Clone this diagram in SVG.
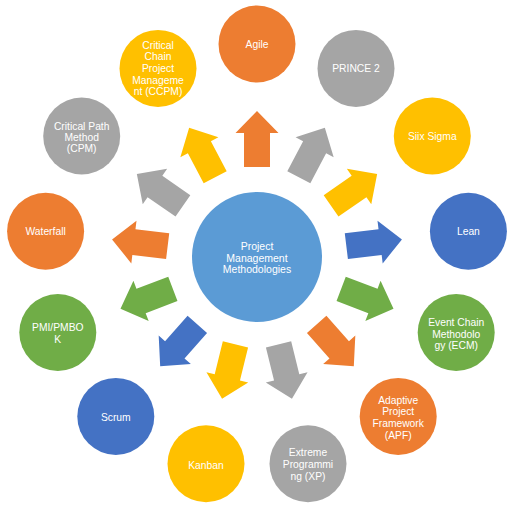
<svg xmlns="http://www.w3.org/2000/svg" xmlns:xlink="http://www.w3.org/1999/xlink" width="519" height="512" viewBox="0 0 519 512">
<style>
text{font-family:"Liberation Sans",Arial,sans-serif;font-size:10.3px;fill:#fff;text-anchor:middle}
.c{font-size:10.5px}
.or{fill:#ED7D31}.gr{fill:#A5A5A5}.ye{fill:#FFC000}.bl{fill:#4472C4}.gn{fill:#70AD47}.lb{fill:#5B9BD5}
</style>
<defs>
<polygon id="arr" points="347,244 381,244 381,235.5 403,257 381,278.5 381,270 347,270"/>
</defs>
<rect width="519" height="512" fill="#fff"/>
<g id="connectors">
<use xlink:href="#arr" class="or" transform="rotate(-90 257 257)"/>
<use xlink:href="#arr" class="gr" transform="rotate(-62.308 257 257)"/>
<use xlink:href="#arr" class="ye" transform="rotate(-34.615 257 257)"/>
<use xlink:href="#arr" class="bl" transform="rotate(-6.923 257 257)"/>
<use xlink:href="#arr" class="gn" transform="rotate(20.769 257 257)"/>
<use xlink:href="#arr" class="or" transform="rotate(48.462 257 257)"/>
<use xlink:href="#arr" class="gr" transform="rotate(76.154 257 257)"/>
<use xlink:href="#arr" class="ye" transform="rotate(103.846 257 257)"/>
<use xlink:href="#arr" class="bl" transform="rotate(131.538 257 257)"/>
<use xlink:href="#arr" class="gn" transform="rotate(159.231 257 257)"/>
<use xlink:href="#arr" class="or" transform="rotate(186.923 257 257)"/>
<use xlink:href="#arr" class="gr" transform="rotate(214.615 257 257)"/>
<use xlink:href="#arr" class="ye" transform="rotate(242.308 257 257)"/>
</g>
<g id="center">
<circle class="lb" cx="257" cy="257" r="65"/>
<text class="c" x="257" y="249.5">Project</text>
<text class="c" x="257" y="261.5">Management</text>
<text class="c" x="257" y="273.3">Methodologies</text>
</g>
<g id="agile"><circle class="or" cx="257" cy="44" r="38.5"/><text x="257" y="47.7">Agile</text></g>
<g id="prince2"><circle class="gr" cx="356" cy="68.4" r="38.5"/><text x="356" y="72">PRINCE 2</text></g>
<g id="sixsigma"><circle class="ye" cx="432.3" cy="136" r="38.5"/><text x="432.3" y="139.7">Siix Sigma</text></g>
<g id="lean"><circle class="bl" cx="468.4" cy="231.3" r="38.5"/><text x="468.4" y="235.4">Lean</text></g>
<g id="ecm"><circle class="gn" cx="456.2" cy="332.5" r="38.5"/><text x="456.2" y="325.5">Event Chain</text><text x="456.2" y="337.5">Methodolo</text><text x="456.2" y="349.3">gy (ECM)</text></g>
<g id="apf"><circle class="or" cx="398.2" cy="416.4" r="38.5"/><text x="398.2" y="403.5">Adaptive</text><text x="398.2" y="415.3">Project</text><text x="398.2" y="426.8">Framework</text><text x="398.2" y="438.5">(APF)</text></g>
<g id="xp"><circle class="gr" cx="308" cy="463.8" r="38.5"/><text x="308" y="456.4">Extreme</text><text x="308" y="468.4">Programmi</text><text x="308" y="480">ng (XP)</text></g>
<g id="kanban"><circle class="ye" cx="206" cy="463.8" r="38.5"/><text x="206" y="468.7">Kanban</text></g>
<g id="scrum"><circle class="bl" cx="115.8" cy="416.4" r="38.5"/><text x="115.8" y="421.4">Scrum</text></g>
<g id="pmi"><circle class="gn" cx="57.8" cy="332.5" r="38.5"/><text x="57.8" y="331">PMI/PMBO</text><text x="57.8" y="343.2">K</text></g>
<g id="waterfall"><circle class="or" cx="45.6" cy="231.3" r="38.5"/><text x="45.6" y="235.4">Waterfall</text></g>
<g id="cpm"><circle class="gr" cx="81.7" cy="136" r="38.5"/><text x="81.7" y="129.6">Critical Path</text><text x="81.7" y="141.2">Method</text><text x="81.7" y="152.4">(CPM)</text></g>
<g id="ccpm"><circle class="ye" cx="158" cy="68.4" r="38.5"/><text x="158" y="48.7">Critical</text><text x="158" y="60.4">Chain</text><text x="158" y="72">Project</text><text x="158" y="83.7">Manageme</text><text x="158" y="95.4">nt (CCPM)</text></g>
</svg>
